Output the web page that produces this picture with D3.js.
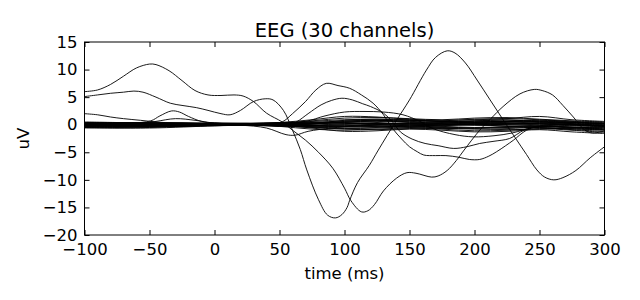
<!DOCTYPE html>
<html>
<head>
<meta charset="utf-8">
<script src="https://cdn.jsdelivr.net/npm/d3@7"></script>
<style>
  body { margin: 0; background: #fff; }
  svg { display: block; font-family: "DejaVu Sans", sans-serif; }
</style>
</head>
<body>
<svg id="chart" width="640" height="300"></svg>
<script>
// canais com forma própria: pares [tempo (ms), valor (uV)]
const canal_A = [[-100,6.0],[-90,6.3],[-80,7.3],[-70,8.8],[-60,10.3],[-50,11.0],[-45,10.9],[-35,9.8],[-25,8.0],[-15,6.2],[-5,5.4],[5,5.3],[15,5.4],[22,5.2],[30,4.2],[40,2.1],[52,0.5],[60,-1.0],[70,-2.8],[80,-5.0],[91,-7.9],[100,-11.5],[105,-13.8],[113,-15.8],[118,-15.6],[123,-14.5],[130,-12.0],[140,-9.7],[148,-8.7],[155,-8.8],[167,-9.5],[172,-9.3],[179,-8.3],[186,-6.5],[192,-4.6],[204,-1.0],[213,1.2],[222,3.3],[235,5.6],[246,6.4],[252,6.2],[260,5.4],[268,3.5],[276,1.4],[285,-1.0],[291,-1.5],[300,-1.1]];
const canal_B = [[-100,5.1],[-90,5.4],[-80,5.7],[-70,5.9],[-62,6.1],[-55,5.9],[-45,5.0],[-34,3.9],[-25,3.5],[-14,3.1],[-5,2.6],[5,2.0],[12,1.8],[20,2.6],[30,4.2],[39,4.7],[45,4.5],[53,2.6],[60,-1.0],[66,-4.5],[71,-8.2],[80,-13.6],[87,-16.4],[93,-16.9],[98,-16.3],[102,-15.0],[104,-13.7],[110,-10.5],[119,-7.4],[126,-4.6],[140,0.8],[150,4.5],[163,9.9],[170,12.2],[179,13.4],[185,13.0],[193,11.2],[202,8.1],[212,4.5],[222,0.9],[232,-2.6],[240,-5.4],[248,-8.2],[254,-9.5],[261,-10.0],[268,-9.6],[278,-8.3],[289,-6.0],[300,-4.0]];
const canal_C = [[-100,0.0],[-50,0.2],[0,0.1],[40,0.0],[52,0.5],[60,2.0],[70,4.2],[78,6.3],[86,7.5],[95,7.1],[104,6.6],[113,5.4],[122,3.9],[130,1.8],[137,-0.7],[144,-2.6],[150,-4.0],[156,-4.9],[161,-5.5],[170,-5.6],[178,-5.6],[188,-5.9],[196,-6.3],[204,-6.3],[211,-5.7],[217,-4.9],[224,-3.8],[230,-2.8],[240,-1.0],[250,-0.3],[275,-0.5],[300,-0.9]];
const canal_D = [[-100,-0.2],[-50,-0.1],[0,0.0],[40,-0.1],[55,-0.2],[63,0.5],[72,2.0],[82,3.6],[90,4.4],[98,4.8],[106,4.5],[114,3.8],[120,3.3],[130,2.1],[137,0.5],[143,-1.3],[152,-2.6],[162,-3.4],[172,-3.8],[184,-4.3],[194,-4.0],[204,-3.4],[215,-3.0],[227,-2.5],[238,-1.0],[250,-0.2],[275,0.0],[300,-0.3]];
const canal_E = [[-100,0.1],[0,0.2],[50,0.3],[70,0.6],[85,1.6],[100,2.3],[115,2.4],[130,2.3],[145,1.8],[158,0.6],[168,-0.7],[185,-1.8],[199,-2.2],[215,-2.0],[229,-1.5],[245,-0.5],[270,0.0],[300,-0.3]];
const canal_F = [[-100,2.0],[-90,1.8],[-80,1.4],[-70,1.1],[-57,0.8],[-45,0.5],[-30,0.3],[0,0.2],[50,0.1],[100,0.3],[150,0.1],[200,0.2],[250,0.0],[300,-0.4]];
const canal_G = [[-100,0.2],[-65,0.3],[-49,0.7],[-42,1.6],[-33,2.5],[-27,2.3],[-20,1.5],[-10,0.6],[0,0.3],[50,0.1],[100,0.5],[150,0.8],[200,0.3],[250,0.6],[300,0.2]];
const canal_G2 = [[-100,-0.1],[-60,0.1],[-45,0.6],[-30,1.1],[-15,0.8],[0,0.3],[50,0.0],[100,-0.3],[150,-0.2],[200,0.0],[250,0.2],[300,-0.2]];
const canal_H = [[-100,-0.5],[-50,-0.6],[0,-0.2],[20,-0.1],[40,-0.6],[55,-1.8],[62,-1.9],[72,-1.2],[90,-0.6],[110,-0.2],[150,0.2],[200,-0.1],[250,-0.3],[300,-0.6]];

// canais quase planos (faixa grossa em torno de zero)
const tempos_faixa = [-100,-75,-50,-25,0,25,50,75,100,125,150,175,200,225,250,275,300];
const faixa = [
  [0.3,0.2,0.1,0.2,0.1,0.0,0.1,0.3,0.5,0.6,0.4,0.3,0.5,0.6,0.4,0.2,0.0],
  [-0.3,-0.4,-0.3,-0.1,0.0,0.1,0.0,-0.2,-0.4,-0.3,-0.1,-0.3,-0.5,-0.4,-0.6,-0.8,-0.9],
  [0.4,0.4,0.3,0.3,0.2,0.1,0.2,0.6,0.9,1.0,0.8,0.7,1.0,1.1,0.9,0.6,0.4],
  [-0.5,-0.6,-0.5,-0.3,-0.1,0.0,-0.2,-0.5,-0.7,-0.6,-0.4,-0.6,-0.8,-0.7,-0.5,-0.9,-1.2],
  [0.1,0.0,0.0,0.1,0.2,0.2,0.0,-0.1,0.2,0.3,0.1,0.0,0.2,0.3,0.2,0.0,-0.2],
  [-0.1,-0.2,-0.2,0.0,0.1,0.1,-0.1,-0.3,-0.2,0.0,-0.2,-0.1,0.1,0.0,-0.2,-0.4,-0.5],
  [0.2,0.3,0.3,0.3,0.1,0.0,0.3,0.7,1.2,1.3,1.1,0.9,1.2,1.3,1.0,0.7,0.5],
  [-0.4,-0.3,-0.2,-0.2,0.0,0.0,-0.3,-0.8,-1.0,-0.8,-0.6,-0.8,-1.1,-1.0,-0.7,-1.0,-1.4],
  [0.0,0.1,0.2,0.1,0.0,0.1,0.1,0.2,0.4,0.2,0.0,0.1,0.3,0.2,0.1,-0.1,-0.3],
  [0.3,0.3,0.2,0.3,0.3,0.2,0.4,0.9,1.5,1.4,1.0,0.8,0.9,1.1,1.5,0.9,0.6],
  [-0.2,-0.1,0.0,0.0,-0.1,-0.1,-0.2,-0.4,-0.6,-0.5,-0.3,-0.4,-0.6,-0.5,-0.3,-0.6,-0.7],
  [-0.6,-0.5,-0.4,-0.2,0.0,0.1,-0.1,-0.6,-1.2,-1.1,-0.8,-1.0,-1.3,-1.2,-0.9,-1.3,-1.6],
  [0.5,0.4,0.4,0.3,0.2,0.2,0.3,0.4,0.7,0.8,0.6,0.5,0.7,0.8,0.6,0.3,0.2],
  [0.1,0.2,0.0,-0.1,0.0,0.0,0.2,0.5,0.3,0.1,0.2,0.4,0.6,0.5,0.3,0.1,-0.1],
  [-0.4,-0.4,-0.4,-0.3,-0.1,0.0,0.1,-0.1,-0.3,-0.2,-0.5,-0.7,-0.6,-0.4,-0.2,-0.5,-0.8],
  [0.2,0.1,0.1,0.2,0.3,0.3,0.2,0.0,-0.1,0.1,0.3,0.2,0.0,0.1,0.3,0.4,0.2],
  [-0.3,-0.2,-0.1,0.0,0.1,0.0,-0.1,0.1,0.6,0.8,0.5,0.3,0.4,0.6,0.7,0.4,0.1],
  [0.0,-0.1,-0.2,-0.1,0.0,0.1,0.0,-0.4,-0.8,-0.9,-0.7,-0.5,-0.7,-0.9,-0.8,-0.6,-0.4],
  [0.3,0.3,0.2,0.1,0.1,0.2,0.4,0.3,0.1,0.4,0.7,0.6,0.4,0.5,0.8,0.5,0.3],
  [-0.2,-0.3,-0.3,-0.3,-0.2,-0.1,-0.3,-0.2,0.0,-0.2,-0.4,-0.2,0.0,-0.3,-0.5,-0.7,-1.0],
  [0.3,0.2,0.3,0.2,0.2,0.1,0.0,0.2,0.8,1.0,0.9,0.6,0.7,0.9,0.5,0.2,-0.1]
];

const ticks_x = [-100,-50,0,50,100,150,200,250,300];
const ticks_y = [-20,-15,-10,-5,0,5,10,15];

const titulo = "EEG (30 channels)";
const rotulo_x = "time (ms)";
const rotulo_y = "uV";

// montagem dos canais
const canais = faixa.map(vals => vals.map((v, i) => [tempos_faixa[i], v]))
  .concat([canal_F, canal_G, canal_G2, canal_H, canal_E, canal_D, canal_C, canal_A, canal_B]);

const L = 84.5, T = 42, W = 520, H = 193;
const FS = 16.5;

const $svg = d3.select("#chart");

const x = d3.scaleLinear().domain([-100, 300]).range([L, L + W]);
const y = d3.scaleLinear().domain([-20, 15]).range([T + H, T]);

const linha = d3.line()
  .x(d => x(d[0]))
  .y(d => y(d[1]))
  .curve(d3.curveCatmullRom.alpha(0.5));

$svg.append("defs").append("clipPath").attr("id", "area")
  .append("rect").attr("x", L).attr("y", T).attr("width", W).attr("height", H);

$svg.append("g")
  .attr("clip-path", "url(#area)")
  .selectAll("path")
  .data(canais)
  .join("path")
  .attr("d", linha)
  .attr("fill", "none")
  .attr("stroke", "#000")
  .attr("stroke-width", 0.9);

// eixos com ticks para dentro
const eixo_baixo = $svg.append("g").attr("transform", `translate(0,${T + H})`)
  .call(d3.axisBottom(x).tickValues(ticks_x).tickSizeInner(-5).tickSizeOuter(0).tickPadding(8));
const eixo_cima = $svg.append("g").attr("transform", `translate(0,${T})`)
  .call(d3.axisTop(x).tickValues(ticks_x).tickSizeInner(-5).tickSizeOuter(0).tickFormat(""));
const eixo_esq = $svg.append("g").attr("transform", `translate(${L},0)`)
  .call(d3.axisLeft(y).tickValues(ticks_y).tickSizeInner(-5).tickSizeOuter(0).tickPadding(7));
const eixo_dir = $svg.append("g").attr("transform", `translate(${L + W},0)`)
  .call(d3.axisRight(y).tickValues(ticks_y).tickSizeInner(-5).tickSizeOuter(0).tickFormat(""));

[eixo_baixo, eixo_cima, eixo_esq, eixo_dir].forEach(g => {
  g.select(".domain").remove();
  g.selectAll("line").attr("stroke", "#000").attr("stroke-width", 1);
  g.selectAll("text").attr("font-family", "DejaVu Sans").attr("font-size", FS).attr("fill", "#000");
});

$svg.append("rect")
  .attr("x", L).attr("y", T).attr("width", W).attr("height", H)
  .attr("fill", "none").attr("stroke", "#000").attr("stroke-width", 1);

$svg.append("text")
  .attr("x", L + W / 2).attr("y", 36.5)
  .attr("text-anchor", "middle")
  .attr("font-size", 19.5)
  .text(titulo);

$svg.append("text")
  .attr("x", L + W / 2).attr("y", 279)
  .attr("text-anchor", "middle")
  .attr("font-size", FS)
  .text(rotulo_x);

$svg.append("text")
  .attr("transform", `translate(28.5,${T + H / 2}) rotate(-90)`)
  .attr("text-anchor", "middle")
  .attr("font-size", FS)
  .text(rotulo_y);
</script>
</body>
</html>
